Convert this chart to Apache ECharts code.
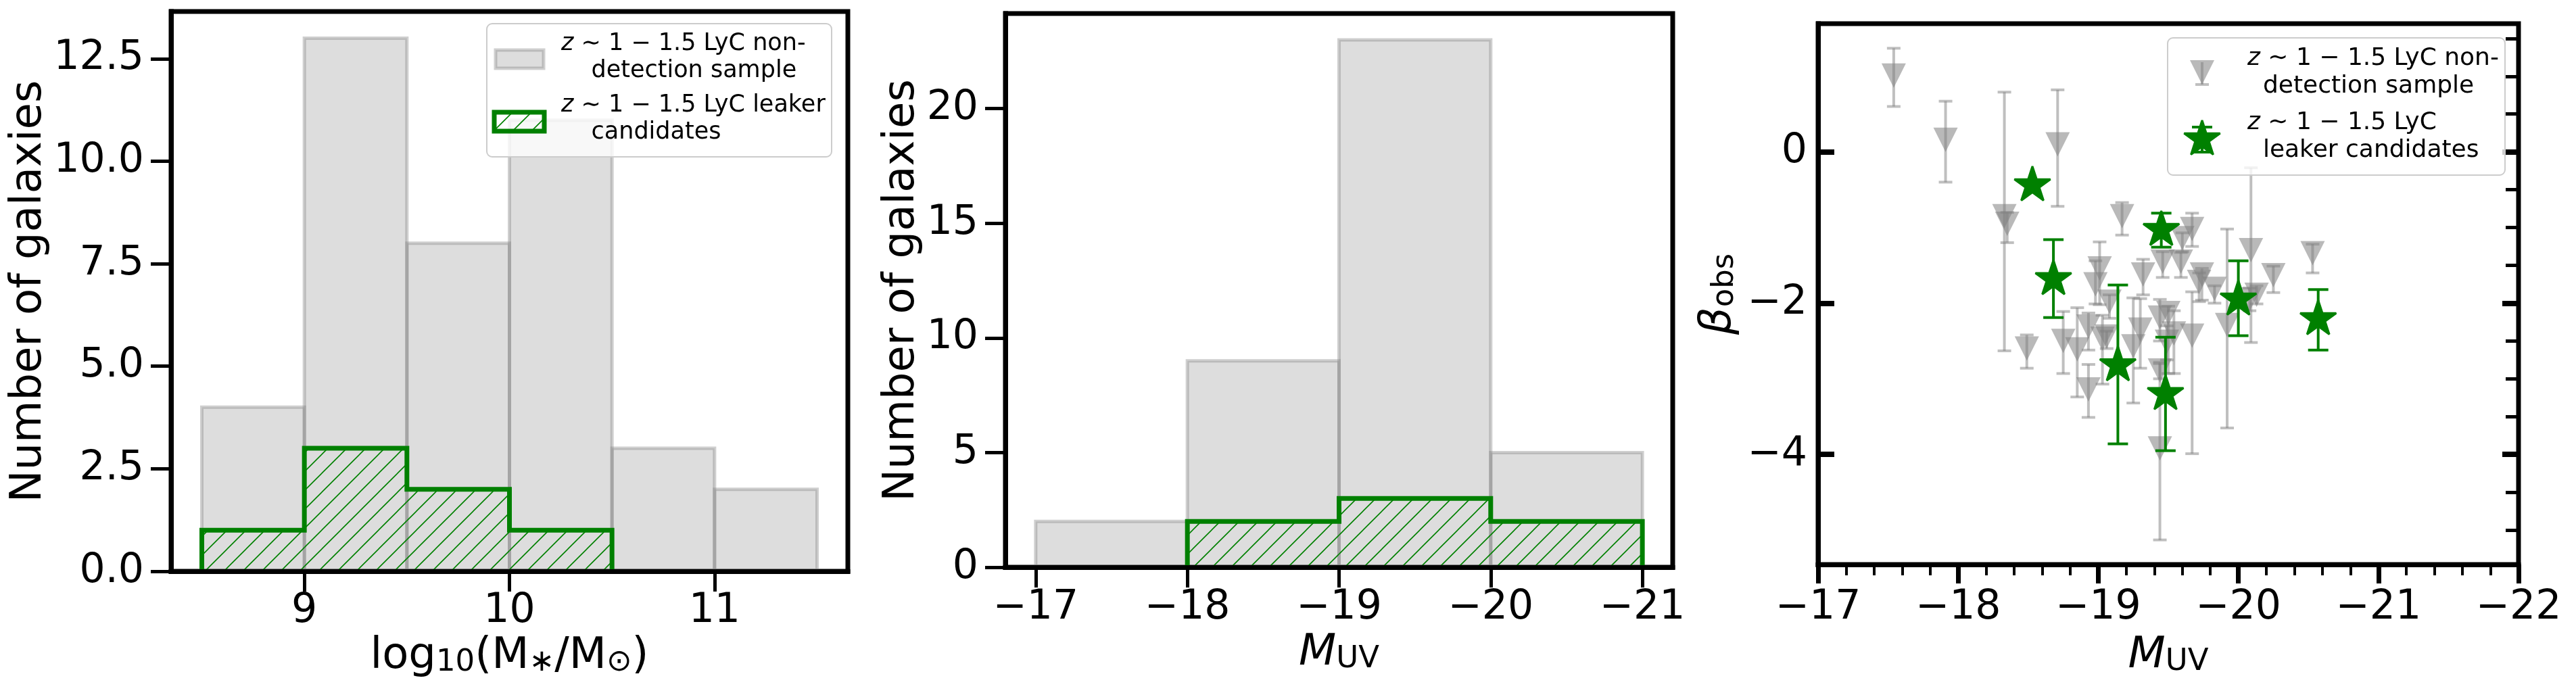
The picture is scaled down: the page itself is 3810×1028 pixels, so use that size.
<!DOCTYPE html>
<html>
<head>
<meta charset="utf-8">
<script src="https://cdn.jsdelivr.net/npm/echarts@6/dist/echarts.min.js"></script>
<style>
html, body { margin: 0; padding: 0; background: #fff; }
#main { width: 3810px; height: 1028px; }
</style>
</head>
<body>
<div id="main"></div>
<script>
// ---- data ----
// stellar mass histogram (log10 M*/Msun)
var massEdges = [8.5, 9, 9.5, 10, 10.5, 11, 11.5];
var massCounts = [4, 13, 8, 11, 3, 2];
var massLeakEdges = [8.5, 9, 9.5, 10, 10.5];
var massLeakCounts = [1, 3, 2, 1];
var massTicks = [9, 10, 11];
var massCountTicks = [0, 2.5, 5, 7.5, 10, 12.5];

// M_UV histogram
var muvEdges = [-17, -18, -19, -20, -21];
var muvCounts = [2, 9, 23, 5];
var muvLeakEdges = [-18, -19, -20, -21];
var muvLeakCounts = [2, 3, 2];
var muvTicks = [-17, -18, -19, -20, -21];
var muvCountTicks = [0, 5, 10, 15, 20];

// beta vs M_UV : [M_UV, beta, beta_low, beta_high]
var nonDetect = [
    [-17.54, 1.01, 0.60, 1.37],
    [-17.91, 0.16, -0.40, 0.67],
    [-18.33, -0.85, -2.63, 0.79],
    [-18.35, -0.95, -1.20, -0.80],
    [-18.49, -2.60, -2.86, -2.42],
    [-18.71, 0.10, -0.72, 0.82],
    [-18.75, -2.50, -2.93, -2.11],
    [-18.85, -2.61, -3.24, -2.06],
    [-18.93, -3.14, -3.51, -2.81],
    [-18.93, -2.31, -2.62, -2.13],
    [-18.98, -1.75, -2.01, -1.44],
    [-19.01, -1.54, -2.02, -1.19],
    [-19.03, -2.47, -3.07, -2.16],
    [-19.06, -2.44, -2.60, -2.37],
    [-19.08, -1.98, -2.20, -1.89],
    [-19.17, -0.85, -1.10, -0.67],
    [-19.25, -2.57, -3.32, -1.93],
    [-19.30, -2.35, -2.86, -1.94],
    [-19.32, -1.62, -1.89, -1.42],
    [-19.44, -3.92, -5.13, -2.80],
    [-19.44, -2.89, -3.00, -2.78],
    [-19.44, -2.19, -2.50, -1.95],
    [-19.46, -1.45, -1.66, -1.32],
    [-19.50, -2.13, -2.93, -2.04],
    [-19.49, -2.51, -2.75, -2.30],
    [-19.54, -2.40, -2.93, -2.10],
    [-19.59, -1.45, -1.66, -1.33],
    [-19.60, -1.14, -1.32, -1.07],
    [-19.67, -1.02, -1.25, -0.81],
    [-19.67, -2.43, -3.99, -1.85],
    [-19.74, -1.62, -1.96, -1.54],
    [-19.72, -1.72, -1.98, -1.60],
    [-19.83, -1.81, -2.00, -1.77],
    [-19.92, -2.29, -3.65, -1.02],
    [-20.09, -1.30, -2.52, -0.21],
    [-20.13, -1.89, -2.01, -1.77],
    [-20.08, -1.95, -2.10, -1.80],
    [-20.25, -1.63, -1.86, -1.51],
    [-20.53, -1.34, -1.60, -1.22]
];
var leakers = [
    [-18.53, -0.44, -0.44, -0.44],
    [-18.68, -1.68, -2.19, -1.16],
    [-19.14, -2.82, -3.86, -1.76],
    [-19.45, -1.03, -1.26, -0.81],
    [-19.48, -3.20, -3.95, -2.45],
    [-20.00, -1.95, -2.43, -1.44],
    [-20.57, -2.21, -2.62, -1.82]
];
var betaMajorTicks = [-4, -2, 0];
var betaMinorTicks = [-5, -4.5, -3.5, -3, -2.5, -1.5, -1, -0.5, 0.5, 1, 1.5];

// ---- styling ----
var FONT = 'DejaVu Sans';
var GRAY_FILL = 'rgba(128,128,128,0.27)';
var GRAY_EDGE = 'rgba(128,128,128,0.38)';
var GRAY_MARK = 'rgba(128,128,128,0.55)';
var GREEN = '#008000';

var hatch = document.createElement('canvas');
hatch.width = 28; hatch.height = 28;
(function () {
    var g = hatch.getContext('2d');
    g.strokeStyle = GREEN;
    g.lineWidth = 1.6;
    g.beginPath();
    g.moveTo(0, 28); g.lineTo(28, 0);
    g.moveTo(-14, 14); g.lineTo(14, -14);
    g.moveTo(14, 42); g.lineTo(42, 14);
    g.stroke();
})();
var HATCH = { image: hatch, repeat: 'repeat' };

function minus(v) { return String(v).replace('-', '\u2212'); }

function binsOf(edges, counts) {
    var out = [];
    for (var i = 0; i < counts.length; i++) out.push([edges[i], edges[i + 1], counts[i]]);
    return out;
}
function outlineOf(edges, counts) {
    var pts = [[edges[0], 0]];
    for (var i = 0; i < counts.length; i++) {
        pts.push([edges[i], counts[i]]);
        pts.push([edges[i + 1], counts[i]]);
    }
    pts.push([edges[edges.length - 1], 0]);
    return pts;
}

function barRender(fill, stroke, lw) {
    return function (params, api) {
        var a = api.coord([api.value(0), api.value(2)]);
        var b = api.coord([api.value(1), 0]);
        return {
            type: 'rect',
            shape: { x: Math.min(a[0], b[0]), y: a[1], width: Math.abs(b[0] - a[0]), height: b[1] - a[1] },
            style: { fill: fill, stroke: stroke, lineWidth: lw }
        };
    };
}
function errRender(color, lw, cap) {
    return function (params, api) {
        var x = api.value(0);
        if (api.value(2) === api.value(3)) return null;
        var lo = api.coord([x, api.value(2)]);
        var hi = api.coord([x, api.value(3)]);
        var st = { stroke: color, lineWidth: lw };
        return {
            type: 'group',
            children: [
                { type: 'line', shape: { x1: hi[0], y1: hi[1], x2: lo[0], y2: lo[1] }, style: st },
                { type: 'line', shape: { x1: hi[0] - cap, y1: hi[1], x2: hi[0] + cap, y2: hi[1] }, style: st },
                { type: 'line', shape: { x1: lo[0] - cap, y1: lo[1], x2: lo[0] + cap, y2: lo[1] }, style: st }
            ]
        };
    };
}
function starPoints(cx, cy, R) {
    var p = [];
    for (var k = 0; k < 10; k++) {
        var r = k % 2 ? 0.381966 * R : R;
        var t = Math.PI / 2 + k * Math.PI / 5;
        p.push([cx + r * Math.cos(t), cy - r * Math.sin(t)]);
    }
    return p;
}
function starRender(R) {
    return function (params, api) {
        var c = api.coord([api.value(0), api.value(1)]);
        return { type: 'polygon', shape: { points: starPoints(c[0], c[1], R) },
                 style: { fill: GREEN, stroke: GREEN, lineWidth: 3, lineJoin: 'bevel' } };
    };
}

var tickLabel = { fontSize: 60, fontFamily: FONT, color: '#000' };
var nameRich = {
    n: { fontSize: 64, fontFamily: FONT, color: '#000', lineHeight: 64 },
    i: { fontSize: 64, fontFamily: FONT, fontStyle: 'italic', color: '#000', lineHeight: 64 },
    s: { fontSize: 45, fontFamily: FONT, color: '#000', lineHeight: 24, verticalAlign: 'bottom' }
};
var nameStyle = { fontSize: 64, fontFamily: FONT, color: '#000', rich: nameRich };
var spine = { show: true, onZero: false, lineStyle: { color: '#000', width: 7, cap: 'square' } };
var noLine = { show: false, onZero: false };

var grids = [
    { left: 253, top: 17, width: 1001, height: 828 },
    { left: 1487, top: 20, width: 987, height: 819 },
    { left: 2689, top: 35, width: 1036, height: 800 }
];
grids.forEach(function (g) {
    g.show = true; g.borderColor = '#000'; g.borderWidth = 7; g.backgroundColor = 'transparent';
});

var option = {
    animation: false,
    grid: grids,
    xAxis: [
        {
            gridIndex: 0, type: 'value', min: 8.35, max: 11.65, z: 10,
            axisLine: spine,
            axisTick: { show: true, customValues: massTicks, length: 30, lineStyle: { color: '#000', width: 5 } },
            axisLabel: Object.assign({ customValues: massTicks, margin: 29 }, tickLabel),
            splitLine: { show: false },
            name: '{n|log}{s|10}{n|(M}{s|\u2217}{n|/M}{s|\u2299}{n|)}',
            nameLocation: 'middle', nameGap: 93, nameTextStyle: nameStyle
        },
        {
            gridIndex: 1, type: 'value', min: -21.2, max: -16.8, inverse: true, z: 10,
            axisLine: spine,
            axisTick: { show: true, customValues: muvTicks, length: 30, lineStyle: { color: '#000', width: 5 } },
            axisLabel: Object.assign({ customValues: muvTicks, margin: 30, formatter: minus }, tickLabel),
            splitLine: { show: false },
            name: '{i|M}{s|UV}', nameLocation: 'middle', nameGap: 95, nameTextStyle: nameStyle
        },
        {
            gridIndex: 2, type: 'value', min: -22, max: -17, interval: 1, inverse: true, z: 10,
            axisLine: spine,
            axisTick: { show: true, length: 28, lineStyle: { color: '#000', width: 7 } },
            minorTick: { show: true, splitNumber: 5, length: 16, lineStyle: { color: '#000', width: 4 } },
            axisLabel: Object.assign({ margin: 34, formatter: minus }, tickLabel),
            splitLine: { show: false },
            name: '{i|M}{s|UV}', nameLocation: 'middle', nameGap: 103, nameTextStyle: nameStyle
        }
    ],
    yAxis: [
        {
            gridIndex: 0, type: 'value', min: 0, max: 13.65, z: 10,
            axisLine: spine,
            axisTick: { show: true, customValues: massCountTicks, length: 30, lineStyle: { color: '#000', width: 5 } },
            axisLabel: Object.assign({ customValues: massCountTicks, margin: 40, formatter: function (v) { return v.toFixed(1); } }, tickLabel),
            splitLine: { show: false },
            name: 'Number of galaxies', nameLocation: 'middle', nameGap: 178, nameTextStyle: nameStyle
        },
        {
            gridIndex: 1, type: 'value', min: 0, max: 24.15, z: 10,
            axisLine: spine,
            axisTick: { show: true, customValues: muvCountTicks, length: 30, lineStyle: { color: '#000', width: 5 } },
            axisLabel: Object.assign({ customValues: muvCountTicks, margin: 40 }, tickLabel),
            splitLine: { show: false },
            name: 'Number of galaxies', nameLocation: 'middle', nameGap: 120, nameTextStyle: nameStyle
        },
        {
            gridIndex: 2, type: 'value', min: -5.455, max: 1.695, z: 10,
            axisLine: spine,
            axisTick: { show: true, inside: true, customValues: betaMajorTicks, length: 24, lineStyle: { color: '#000', width: 8 } },
            axisLabel: Object.assign({ customValues: betaMajorTicks, margin: 16, formatter: minus }, tickLabel),
            splitLine: { show: false },
            name: '{i|\u03b2}{s|obs}', nameLocation: 'middle', nameGap: 115, nameTextStyle: nameStyle
        },
        {
            gridIndex: 2, type: 'value', min: -5.455, max: 1.695, z: 10,
            axisLine: noLine,
            axisTick: { show: true, inside: true, customValues: betaMinorTicks, length: 19, lineStyle: { color: '#000', width: 5 } },
            axisLabel: { show: false }, splitLine: { show: false }
        },
        {
            gridIndex: 2, type: 'value', min: -5.455, max: 1.695, position: 'right', z: 10,
            axisLine: noLine,
            axisTick: { show: true, inside: true, customValues: betaMajorTicks, length: 24, lineStyle: { color: '#000', width: 8 } },
            axisLabel: { show: false }, splitLine: { show: false }
        },
        {
            gridIndex: 2, type: 'value', min: -5.455, max: 1.695, position: 'right', z: 10,
            axisLine: noLine,
            axisTick: { show: true, inside: true, customValues: betaMinorTicks, length: 19, lineStyle: { color: '#000', width: 5 } },
            axisLabel: { show: false }, splitLine: { show: false }
        }
    ],
    series: [
        // panel 1: stellar mass
        { type: 'custom', xAxisIndex: 0, yAxisIndex: 0, z: 2, silent: true,
          renderItem: barRender(GRAY_FILL, GRAY_EDGE, 5), data: binsOf(massEdges, massCounts) },
        { type: 'custom', xAxisIndex: 0, yAxisIndex: 0, z: 3, silent: true,
          renderItem: barRender(HATCH, null, 0), data: binsOf(massLeakEdges, massLeakCounts) },
        { type: 'line', xAxisIndex: 0, yAxisIndex: 0, z: 4, silent: true, symbol: 'none',
          lineStyle: { color: GREEN, width: 7, join: 'miter' }, data: outlineOf(massLeakEdges, massLeakCounts) },
        // panel 2: M_UV
        { type: 'custom', xAxisIndex: 1, yAxisIndex: 1, z: 2, silent: true,
          renderItem: barRender(GRAY_FILL, GRAY_EDGE, 5), data: binsOf(muvEdges, muvCounts) },
        { type: 'custom', xAxisIndex: 1, yAxisIndex: 1, z: 3, silent: true,
          renderItem: barRender(HATCH, null, 0), data: binsOf(muvLeakEdges, muvLeakCounts) },
        { type: 'line', xAxisIndex: 1, yAxisIndex: 1, z: 4, silent: true, symbol: 'none',
          lineStyle: { color: GREEN, width: 7, join: 'miter' }, data: outlineOf(muvLeakEdges, muvLeakCounts) },
        // panel 3: beta vs M_UV
        { type: 'custom', xAxisIndex: 2, yAxisIndex: 2, z: 2, silent: true,
          renderItem: errRender('rgba(128,128,128,0.5)', 4, 10), data: nonDetect },
        { type: 'scatter', xAxisIndex: 2, yAxisIndex: 2, z: 3, silent: true,
          symbol: 'triangle', symbolRotate: 180, symbolSize: 36,
          itemStyle: { color: GRAY_MARK, opacity: 1 },
          data: nonDetect.map(function (d) { return [d[0], d[1]]; }) },
        { type: 'custom', xAxisIndex: 2, yAxisIndex: 2, z: 4, silent: true,
          renderItem: errRender(GREEN, 4, 15), data: leakers },
        { type: 'custom', xAxisIndex: 2, yAxisIndex: 2, z: 5, silent: true,
          renderItem: starRender(28), data: leakers }
    ],
    graphic: []
};

// ---- legends ----
function legText(x, y, str, size, lh) {
    var rich = {
        i: { fontSize: size, fontFamily: FONT, fontStyle: 'italic', fill: '#000', lineHeight: lh },
        n: { fontSize: size, fontFamily: FONT, fill: '#000', lineHeight: lh }
    };
    return { type: 'text', x: x, y: y, z: 100, silent: true,
             style: { text: str, fontSize: size, fontFamily: FONT, fill: '#000', lineHeight: lh,
                      verticalAlign: 'top', align: 'left', rich: rich } };
}
var g = option.graphic;
// panel 1 legend
g.push({ type: 'rect', z: 99, silent: true, shape: { x: 720, y: 35, width: 510, height: 197, r: 8 },
         style: { fill: 'rgba(255,255,255,0.8)', stroke: '#cccccc', lineWidth: 2 } });
g.push({ type: 'rect', z: 100, silent: true, shape: { x: 733, y: 74, width: 71, height: 27 },
         style: { fill: GRAY_FILL, stroke: GRAY_EDGE, lineWidth: 5 } });
g.push({ type: 'rect', z: 100, silent: true, shape: { x: 731, y: 166, width: 74, height: 28 },
         style: { fill: HATCH, stroke: GREEN, lineWidth: 7 } });
g.push(legText(830, 45, '{i|z}{n| \u223c 1 \u2212 1.5 LyC non-}\n{n|    detection sample}', 35, 40));
g.push(legText(830, 136, '{i|z}{n| \u223c 1 \u2212 1.5 LyC leaker}\n{n|    candidates}', 35, 40));
// panel 3 legend
g.push({ type: 'rect', z: 99, silent: true, shape: { x: 3206, y: 56, width: 499, height: 203, r: 8 },
         style: { fill: 'rgba(255,255,255,0.8)', stroke: '#cccccc', lineWidth: 2 } });
g.push({ type: 'line', z: 100, silent: true, shape: { x1: 3257, y1: 92, x2: 3257, y2: 125 },
         style: { stroke: 'rgba(128,128,128,0.5)', lineWidth: 4 } });
g.push({ type: 'line', z: 100, silent: true, shape: { x1: 3247, y1: 125, x2: 3267, y2: 125 },
         style: { stroke: 'rgba(128,128,128,0.5)', lineWidth: 4 } });
g.push({ type: 'polygon', z: 101, silent: true, shape: { points: [[3239, 89], [3275, 89], [3257, 125]] },
         style: { fill: GRAY_MARK } });
g.push({ type: 'line', z: 100, silent: true, shape: { x1: 3257, y1: 188, x2: 3257, y2: 225 },
         style: { stroke: GREEN, lineWidth: 4 } });
g.push({ type: 'line', z: 100, silent: true, shape: { x1: 3242, y1: 188, x2: 3272, y2: 188 },
         style: { stroke: GREEN, lineWidth: 4 } });
g.push({ type: 'line', z: 100, silent: true, shape: { x1: 3242, y1: 225, x2: 3272, y2: 225 },
         style: { stroke: GREEN, lineWidth: 4 } });
g.push({ type: 'polygon', z: 101, silent: true, shape: { points: starPoints(3257, 206, 28) },
         style: { fill: GREEN, stroke: GREEN, lineWidth: 3, lineJoin: 'bevel' } });
g.push(legText(3324, 66, '{i|z}{n| \u223c 1 \u2212 1.5 LyC non-}\n{n|  detection sample}', 36, 41));
g.push(legText(3324, 161, '{i|z}{n| \u223c 1 \u2212 1.5 LyC}\n{n|  leaker candidates}', 36, 41));

var chart = echarts.init(document.getElementById('main'), null, { renderer: 'canvas' });
chart.setOption(option);
</script>
</body>
</html>
